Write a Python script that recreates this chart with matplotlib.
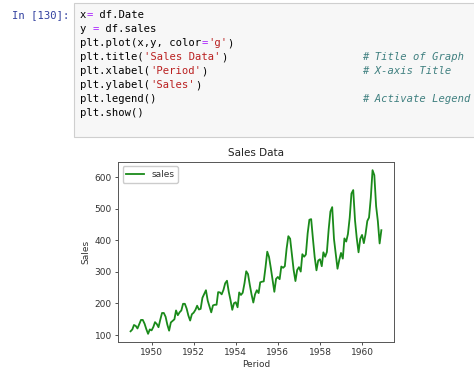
import numpy as np
import pandas as pd
import matplotlib
matplotlib.use("Agg")
import matplotlib.pyplot as plt
import matplotlib.dates as mdates
from matplotlib.patches import Rectangle

# monthly sales, 1949-01 .. 1960-12
sales = [
    112, 118, 132, 129, 121, 135, 148, 148, 136, 119, 104, 118,
    115, 126, 141, 135, 125, 149, 170, 170, 158, 133, 114, 140,
    145, 150, 178, 163, 172, 178, 199, 199, 184, 162, 146, 166,
    171, 180, 193, 181, 183, 218, 230, 242, 209, 191, 172, 194,
    196, 196, 236, 235, 229, 243, 264, 272, 237, 211, 180, 201,
    204, 188, 235, 227, 234, 264, 302, 293, 259, 229, 203, 229,
    242, 233, 267, 269, 270, 315, 364, 347, 312, 274, 237, 278,
    284, 277, 317, 313, 318, 374, 413, 405, 355, 306, 271, 306,
    315, 301, 356, 348, 355, 422, 465, 467, 404, 347, 305, 336,
    340, 318, 362, 348, 363, 435, 491, 505, 404, 359, 310, 337,
    360, 342, 406, 396, 420, 472, 548, 559, 463, 407, 362, 405,
    417, 391, 419, 461, 472, 535, 622, 606, 508, 461, 390, 432,
]
dates = pd.date_range("1949-01-01", periods=len(sales), freq="MS")

# code cell lines: list of (token, color)
BLACK = "#000000"
OP = "#AA22FF"
STR = "#BA2121"
COM = "#408080"
code_lines = [
    [("x", BLACK), ("=", OP), (" df.Date", BLACK)],
    [("y ", BLACK), ("=", OP), (" df.sales", BLACK)],
    [("plt.plot(x,y, color", BLACK), ("=", OP), ("'g'", STR), (")", BLACK)],
    [("plt.title(", BLACK), ("'Sales Data'", STR), (")", BLACK)],
    [("plt.xlabel(", BLACK), ("'Period'", STR), (")", BLACK)],
    [("plt.ylabel(", BLACK), ("'Sales'", STR), (")", BLACK)],
    [("plt.legend()", BLACK)],
    [("plt.show()", BLACK)],
]
comments = {3: "# Title of Graph", 4: "# X-axis Title", 6: "# Activate Legend"}

W, H = 474, 372
fig = plt.figure(figsize=(W / 100, H / 100), dpi=100)
fig.patch.set_facecolor("white")


def px(x, y):
    return x / W, 1 - y / H


# cell box
fig.patches.append(Rectangle(px(74, 137), 410 / W, 134 / H, transform=fig.transFigure,
                             facecolor="#f7f7f7", edgecolor="#cfcfcf", lw=0.8))
fig.text(*px(12, 15.5), "In [130]:", color="#303F9F", family="DejaVu Sans Mono",
         fontsize=7.6, va="center")

cw = 6.4
x0, y0, dy = 80, 15.5, 13.9
for i, line in enumerate(code_lines):
    col = 0
    for tok, c in line:
        fig.text(*px(x0 + col * cw, y0 + i * dy), tok, color=c,
                 family="DejaVu Sans Mono", fontsize=7.6, va="center")
        col += len(tok)
    if i in comments:
        fig.text(*px(x0 + 44 * cw, y0 + i * dy), comments[i], color=COM,
                 family="DejaVu Sans Mono", style="italic", fontsize=7.6, va="center")

ax = fig.add_axes([0.249, 0.0806, 0.582, 0.484])
ax.plot(dates, sales, color="#1a8a1a", lw=1.3, label="sales")
ax.set_title("Sales Data", fontsize=7.5, color="#222222", pad=4)
ax.set_xlabel("Period", fontsize=6.5, color="#333333", labelpad=2)
ax.set_ylabel("Sales", fontsize=6.5, color="#333333", labelpad=3)
ax.xaxis.set_major_locator(mdates.YearLocator(2))
ax.xaxis.set_major_formatter(mdates.DateFormatter("%Y"))
ax.set_yticks([100, 200, 300, 400, 500, 600])
ax.tick_params(labelsize=6.5, colors="#333333", length=2.5, width=0.6, pad=2)
for s in ax.spines.values():
    s.set_color("#555555")
    s.set_linewidth(0.7)
leg = ax.legend(loc="upper left", fontsize=6.5, handlelength=2.0, borderpad=0.4,
                framealpha=1, edgecolor="#cccccc")
for t in leg.get_texts():
    t.set_color("#333333")

fig.savefig("out.png", dpi=100)
